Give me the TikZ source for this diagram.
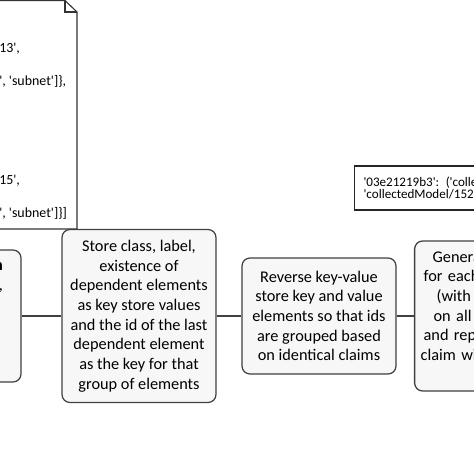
\documentclass[tikz,border=0pt]{standalone}
\usepackage{fontspec}
\setmainfont{Carlito}
\newfontfamily\codefont{Carlito}
\usetikzlibrary{positioning}
\newcommand{\squote}{\textquotesingle}

\begin{document}
\begin{tikzpicture}
\useasboundingbox (0,0) rectangle (11.85,11.85);
\clip (0,0) rectangle (11.85,11.85);
%styles
\tikzstyle{stepbox}=[rectangle,rounded corners=0.2cm,draw=black!75,line width=0.9pt,fill=black!3,align=center,font=\fontsize{11.6}{14}\selectfont,inner sep=0pt]
\tikzstyle{link}=[draw=black!75,line width=0.8pt]

%dictionary output (page)
\draw[fill=white,draw=black!80,line width=0.8pt] (-1.5,11.8375) -- (1.625,11.8375) -- (1.925,11.55) -- (1.925,6.125) -- (-1.5,6.125) -- cycle;
\draw[draw=black!80,line width=0.8pt] (1.625,11.8375) -- (1.625,11.55) -- (1.925,11.55);
\node (dict) at (-0.025,8.5625) [anchor=west,align=left,inner sep=0pt,font=\codefont\fontsize{9.9}{23.5}\selectfont] {13\squote,\\\squote, \squote subnet\squote]\},\\~\\~\\15\squote,\\\squote, \squote subnet\squote]\}]};

%grouped claims
\node (claims) at (8.85,7.15) [anchor=west,draw=black!85,line width=0.8pt,fill=white,align=left,text width=5cm,minimum height=1.1cm,inner xsep=0.225cm,inner ysep=0pt,font=\codefont\fontsize{9.3}{8.9}\selectfont] {\squote03e21219b3\squote: (\squote colle\\\squote collectedModel/152};

%steps
\node[stepbox] (extract) at (-1.4,3.95) [minimum width=3.85cm,minimum height=3.3cm,align=right,text width=2.95cm] {\textbf{n}\\,\\~\\~\\~\\~};
\node[stepbox] (store) at (3.475,3.95) [minimum width=3.85cm,minimum height=4.325cm] {Store class, label,\\existence of\\dependent elements\\as key store values\\and the id of the last\\dependent element\\as the key for that\\group of elements};
\node[stepbox] (reverse) at (7.975,3.95) [minimum width=3.85cm,minimum height=2.9cm] {Reverse key-value\\store key and value\\elements so that ids\\are grouped based\\on identical claims};
\node[stepbox] (generate) at (10.35,3.95) [anchor=west,minimum height=3.75cm,align=left,text width=5cm,inner xsep=0.15cm] {\hspace*{0.3cm}Genera\\\hspace*{0.075cm}for each\\\hspace*{0.4cm}(with S\\\hspace*{0.325cm}on all t\\\hspace*{0.075cm}and rep\\claim wi\\~};

%connectors
\draw[link] (extract.east) -- (store.west);
\draw[link] (store.east) -- (reverse.west);
\draw[link] (reverse.east) -- (generate.west);
\end{tikzpicture}
\end{document}
